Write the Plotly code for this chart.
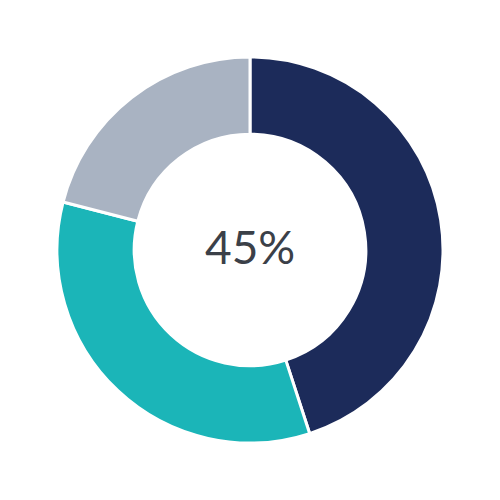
import plotly.graph_objects as go

# Доли сегментов (по часовой стрелке от 12 часов)
labels = ["Segment A", "Segment B", "Segment C"]
values = [45, 34, 21]
colors = ["#1c2b5a", "#1bb5b8", "#a9b3c2"]
center_text = "45%"

fig = go.Figure()

fig.add_trace(go.Pie(
    labels=labels,
    values=values,
    hole=0.6,
    sort=False,
    direction="clockwise",
    rotation=0,
    marker=dict(colors=colors, line=dict(color="white", width=3)),
    textinfo="none",
    hoverinfo="label+percent",
    showlegend=False,
))

# Подпись в центре
fig.add_annotation(
    text=center_text,
    x=0.5, y=0.5,
    xref="paper", yref="paper",
    yshift=4,
    showarrow=False,
    font=dict(family="Lato", size=46, color="#3b4048"),
)

# учитываем отступ body в 8px
fig.update_layout(
    width=500,
    height=500,
    margin=dict(l=49, r=65, t=49, b=65),
    paper_bgcolor="white",
    plot_bgcolor="white",
)

fig.write_html("out.html")
